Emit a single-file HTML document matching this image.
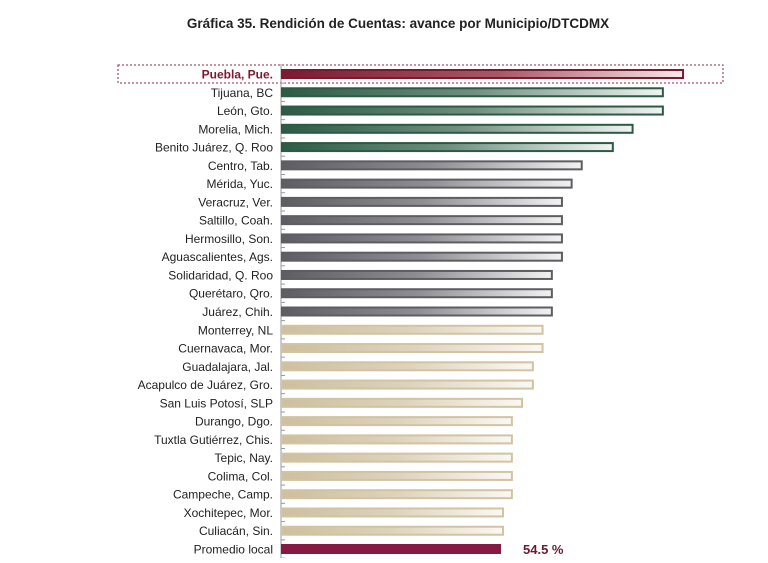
<!DOCTYPE html>
<html><head><meta charset="utf-8"><style>
body{margin:0;background:#fff;width:768px;height:558px;overflow:hidden;font-family:"Liberation Sans",sans-serif}
</style></head><body>
<svg id="c" width="768" height="558">
<defs>
<linearGradient id="gm" x1="0" x2="1"><stop offset="0" stop-color="#7a1a30"/><stop offset="0.55" stop-color="#a85a68"/><stop offset="1" stop-color="#f4eaec"/></linearGradient>
<linearGradient id="gg" x1="0" x2="1"><stop offset="0" stop-color="#2d5a45"/><stop offset="0.5" stop-color="#6f8e80"/><stop offset="1" stop-color="#f0f4f2"/></linearGradient>
<linearGradient id="gy" x1="0" x2="1"><stop offset="0" stop-color="#5e5e62"/><stop offset="0.5" stop-color="#8e8e92"/><stop offset="1" stop-color="#f2f2f2"/></linearGradient>
<linearGradient id="gb" x1="0" x2="1"><stop offset="0" stop-color="#cdbf9f"/><stop offset="0.5" stop-color="#ddd3bc"/><stop offset="1" stop-color="#faf8f3"/></linearGradient>
</defs>
<text x="398" y="28" text-anchor="middle" font-size="13.5" font-weight="bold" fill="#222">Gráfica  35. Rendición de Cuentas: avance por Municipio/DTCDMX</text>
<rect x="118" y="65" width="605" height="18" fill="none" stroke="#8a2a40" stroke-width="1" stroke-dasharray="2,2"/>
<line x1="281" y1="64" x2="281" y2="558" stroke="#999" stroke-width="1"/>
<g id="bars"></g>
</svg>
<script>
const categories=["Puebla, Pue.","Tijuana, BC","León, Gto.","Morelia, Mich.","Benito Juárez, Q. Roo","Centro, Tab.","Mérida, Yuc.","Veracruz, Ver.","Saltillo, Coah.","Hermosillo, Son.","Aguascalientes, Ags.","Solidaridad, Q. Roo","Querétaro, Qro.","Juárez, Chih.","Monterrey, NL","Cuernavaca, Mor.","Guadalajara, Jal.","Acapulco de Juárez, Gro.","San Luis Potosí, SLP","Durango, Dgo.","Tuxtla Gutiérrez, Chis.","Tepic, Nay.","Colima, Col.","Campeche, Camp.","Xochitepec, Mor.","Culiacán, Sin.","Promedio local"];
const values=[99.6,94.6,94.6,87.1,82.2,74.5,72.0,69.6,69.6,69.6,69.6,67.1,67.1,67.1,64.8,64.8,62.4,62.4,59.7,57.2,57.2,57.2,57.2,57.2,55.0,55.0,54.5];
const groups=["m","g","g","g","g","y","y","y","y","y","y","y","y","y","b","b","b","b","b","b","b","b","b","b","b","b","avg"];
const avgLabel="54.5 %";
const x0=281, pxPer=220/54.5, y0=74, step=(549-74)/26;
const xs=v=>x0+v*pxPer, ys=i=>y0+i*step;
const strokes={m:"#7a1a30",g:"#2d5a45",y:"#5e5e62",b:"#d2c4a2"};
const g=document.getElementById('bars'), NS="http://www.w3.org/2000/svg";
categories.forEach((c,i)=>{
  const y=ys(i);
  const t=document.createElementNS(NS,'text');
  
  
  t.setAttribute('x',273);t.setAttribute('y',y+4.5);t.setAttribute('text-anchor','end');
  t.setAttribute('font-size','12');
  const grp=groups[i];
  t.setAttribute('fill',grp==='m'?'#7a1a30':'#222');
  if(grp==='m')t.setAttribute('font-weight','bold');
  t.textContent=c;g.appendChild(t);
  const tk=document.createElementNS(NS,'line');
  
  
  tk.setAttribute('x1',281);tk.setAttribute('x2',285);tk.setAttribute('y1',y+step/2);tk.setAttribute('y2',y+step/2);tk.setAttribute('stroke','#999');
  g.appendChild(tk);
  const r=document.createElementNS(NS,'rect');
  
  
  const w=xs(values[i])-x0;
  if(grp==='avg'){
    r.setAttribute('x',x0);r.setAttribute('y',y-5);r.setAttribute('width',w);r.setAttribute('height',10);r.setAttribute('fill','#861a42');
  }else{
    r.setAttribute('x',x0+1);r.setAttribute('y',y-4);r.setAttribute('width',w-1);r.setAttribute('height',8);
    r.setAttribute('fill','url(#g'+grp+')');r.setAttribute('stroke',strokes[grp]);r.setAttribute('stroke-width','2');
  }
  g.appendChild(r);
  if(grp==='avg'){
    const v=document.createElementNS(NS,'text');
    
    
    v.setAttribute('x',xs(values[i])+22);v.setAttribute('y',y+5);v.setAttribute('font-size','13');v.setAttribute('font-weight','bold');v.setAttribute('fill','#6a1a30');
    v.textContent=avgLabel;g.appendChild(v);
  }
});
</script>
</body></html>
